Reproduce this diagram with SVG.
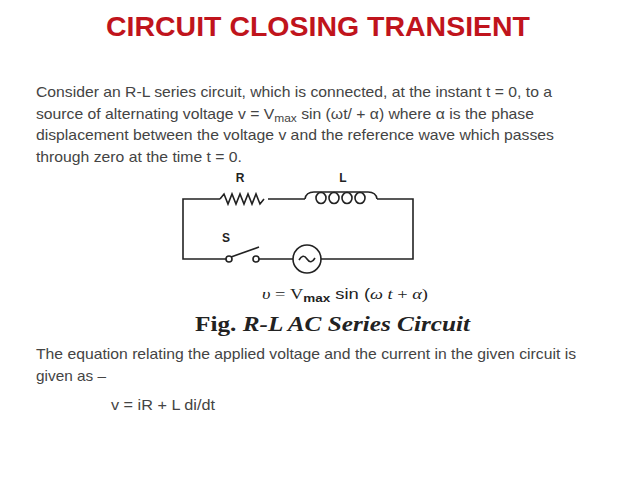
<svg xmlns="http://www.w3.org/2000/svg" width="638" height="478" viewBox="0 0 638 478">
<style>
.t{font-family:"Liberation Sans",Arial,sans-serif;font-size:14.5px;fill:#444}
.w{fill:none;stroke:#222;stroke-width:1.6}
.lb{font-family:"Liberation Sans",Arial,sans-serif;font-size:12px;font-weight:bold;fill:#222}
</style>
<rect width="638" height="478" fill="#fff"/>
<text x="106" y="36" textLength="424" lengthAdjust="spacingAndGlyphs" font-family="Liberation Sans,Arial,sans-serif" font-size="28" font-weight="bold" fill="#c0141c">CIRCUIT CLOSING TRANSIENT</text>
<text class="t" x="36" y="97" textLength="516" lengthAdjust="spacingAndGlyphs">Consider an R-L series circuit, which is connected, at the instant t = 0, to a</text>
<text class="t" x="36" y="119" textLength="498" lengthAdjust="spacingAndGlyphs">source of alternating voltage v = V<tspan font-size="11" dy="3">max</tspan><tspan dy="-3"> sin (ωt/ + α) where α is the phase</tspan></text>
<text class="t" x="36" y="140" textLength="518" lengthAdjust="spacingAndGlyphs">displacement between the voltage v and the reference wave which passes</text>
<text class="t" x="36" y="162" textLength="206" lengthAdjust="spacingAndGlyphs">through zero at the time t = 0.</text>
<g id="wires">
<path class="w" d="M220,199 H183 V259 H226 M259,259 H293 M321,259 H413 V199 H377 M305,199 H268"/>
</g>
<g id="R"><path class="w" d="M220,199 l4,-5 l4,10 l4,-10 l4,10 l4,-10 l4,10 l4,-10 l4,10 l4,-10 l4,10 l4,-5"/><text class="lb" x="240" y="182" text-anchor="middle">R</text></g>
<g id="L"><path class="w" d="M305,199 q1,-7 9,-7 h54 q8,0 9,7"/>
<ellipse class="w" cx="321" cy="198" rx="5" ry="5.5"/><ellipse class="w" cx="334" cy="198" rx="5" ry="5.5"/><ellipse class="w" cx="347" cy="198" rx="5" ry="5.5"/><ellipse class="w" cx="360" cy="198" rx="5" ry="5.5"/>
<text class="lb" x="343" y="182" text-anchor="middle">L</text></g>
<g id="S"><circle class="w" cx="229" cy="259" r="3"/><circle class="w" cx="256" cy="259" r="3"/><path class="w" d="M231,257 L259,247"/><text class="lb" x="226" y="242" text-anchor="middle">S</text></g>
<g id="src"><circle class="w" cx="307" cy="259" r="14"/><path class="w" d="M299,260 q4,-7 8,-1 q4,6 8,-1"/></g>
<text x="262" y="299" textLength="166" lengthAdjust="spacingAndGlyphs" font-family="Liberation Serif,serif" font-size="15" fill="#222"><tspan font-style="italic">υ</tspan> = V<tspan font-family="Liberation Sans,sans-serif" font-weight="bold" font-size="11" dy="3">max</tspan><tspan dy="-3" font-family="Liberation Sans,sans-serif"> sin (</tspan><tspan font-style="italic">ω t</tspan> + <tspan font-style="italic">α</tspan>)</text>
<text x="195" y="331" textLength="275" lengthAdjust="spacingAndGlyphs" font-family="Liberation Serif,serif" font-size="21" font-weight="bold" fill="#222">Fig.  <tspan font-style="italic">R-L AC  Series Circuit</tspan></text>
<text class="t" x="36" y="359" textLength="540" lengthAdjust="spacingAndGlyphs">The equation relating the applied voltage and the current in the given circuit is</text>
<text class="t" x="36" y="381" textLength="70" lengthAdjust="spacingAndGlyphs">given as –</text>
<text class="t" x="111" y="410" textLength="104" lengthAdjust="spacingAndGlyphs">v = iR + L di/dt</text>
</svg>
